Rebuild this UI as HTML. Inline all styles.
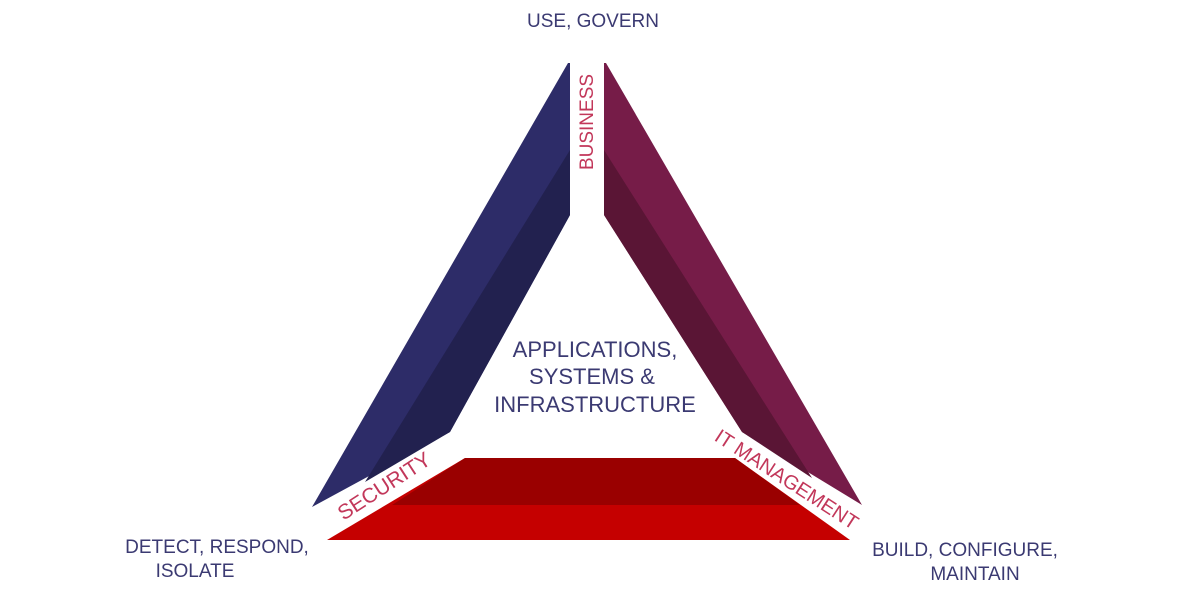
<!DOCTYPE html>
<html><head><style>
body{margin:0;width:1200px;height:600px;background:#fff;overflow:hidden;font-family:"Liberation Sans",sans-serif}
svg text{font-family:"Liberation Sans",sans-serif}
</style></head><body>
<svg width="1200" height="600" viewBox="0 0 1200 600">
<polygon points="568,63 570,63 570,215 450,432 312,507" fill="#2d2c68"/>
<polygon points="570,150 570,215 450,432 365,482" fill="#22214f"/>
<polygon points="604,63 606,63 862,505 742,432 604,215" fill="#761c48"/>
<polygon points="604,150 604,215 742,432 812,478" fill="#5a1535"/>
<polygon points="465,458 735,458 850,540 327,540" fill="#c50000"/>
<polygon points="465,458 735,458 800,505 392,505" fill="#9a0000"/>
<g fill="#3b3a72" font-size="19" text-anchor="middle">
<text x="593" y="27">USE, GOVERN</text>
<text x="217" y="553">DETECT, RESPOND,</text>
<text x="195" y="577">ISOLATE</text>
<text x="965" y="556">BUILD, CONFIGURE,</text>
<text x="975" y="580">MAINTAIN</text>
</g>
<g fill="#3b3a72" font-size="22" text-anchor="middle">
<text x="595" y="357">APPLICATIONS,</text>
<text x="592" y="384">SYSTEMS &amp;</text>
<text x="595" y="412">INFRASTRUCTURE</text>
</g>
<g fill="#c2375a" text-anchor="middle">
<text font-size="19" transform="translate(593,122) rotate(-90)">BUSINESS</text>
<text font-size="21" transform="translate(388,492) rotate(-33)">SECURITY</text>
<text font-size="20" transform="translate(783,485) rotate(33)">IT MANAGEMENT</text>
</g>
</svg>
</body></html>
